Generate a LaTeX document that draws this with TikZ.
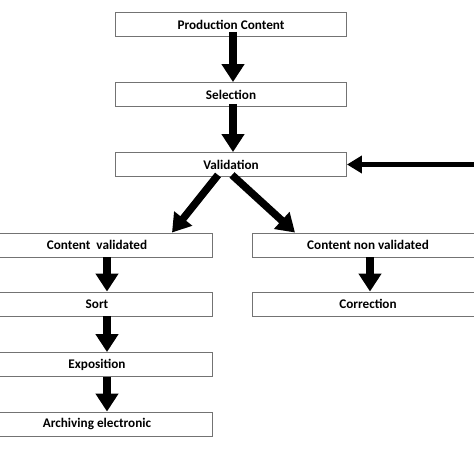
\documentclass[tikz,border=0pt]{standalone}
\usepackage{fontspec}
\setmainfont{Carlito}
\usetikzlibrary{arrows.meta}
\begin{document}
\begin{tikzpicture}[x=1pt,y=-1pt,
  box/.style={draw=black!55,line width=0.9pt,fill=white,minimum width=231pt,minimum height=24pt,inner sep=0pt,font=\fontsize{13.2}{15}\selectfont\bfseries},
  bigarrow/.style={line width=7.5pt,-{Triangle[width=22pt,length=18pt]}},
  medarrow/.style={line width=5.5pt,-{Triangle[width=17pt,length=15pt]}}]
\useasboundingbox (0,0) rectangle (474,474);
\node[box] (prod) at (231,24.5) {Production Content};
\node[box] (sel) at (231,94.5) {Selection};
\node[box] (val) at (231,164.5) {Validation};
\node[box] (cv) at (97,245) {Content\ \ validated};
\node[box] (cnv) at (368,245) {Content non validated};
\node[box] (sort) at (97,304) {Sort};
\node[box] (corr) at (368,304) {Correction};
\node[box] (expo) at (97,364.5) {Exposition};
\node[box] (arch) at (97,424) {Archiving electronic};
\coordinate (feed) at (474,164.5);
\draw[bigarrow] ([xshift=2pt,yshift=5pt]prod.south) -- ([xshift=2pt]sel.north);
\draw[bigarrow] ([xshift=2pt,yshift=3pt]sel.south) -- ([xshift=2pt]val.north);
\draw[medarrow] (feed) -- (val.east);
\draw[bigarrow] ([xshift=-13pt,yshift=2pt]val.south) -- ([xshift=75pt]cv.north);
\draw[bigarrow] ([xshift=1pt,yshift=2pt]val.south) -- ([xshift=-73pt]cnv.north);
\draw[bigarrow] ([xshift=10pt]cv.south) -- ([xshift=10pt]sort.north);
\draw[bigarrow] ([xshift=2pt]cnv.south) -- ([xshift=2pt]corr.north);
\draw[bigarrow] ([xshift=10pt]sort.south) -- ([xshift=10pt]expo.north);
\draw[bigarrow] ([xshift=10pt]expo.south) -- ([xshift=10pt]arch.north);
\end{tikzpicture}
\end{document}
